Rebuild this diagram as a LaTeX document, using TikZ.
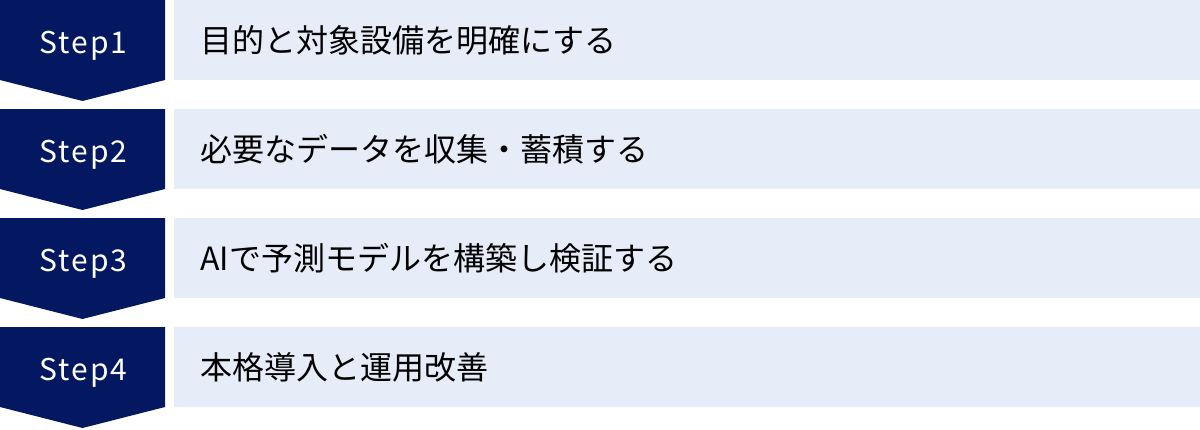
\documentclass[tikz,border=0pt]{standalone}
\usepackage{fontspec}
\setmainfont{Noto Sans CJK JP}
\newfontfamily\stepfont[LetterSpace=7]{Noto Sans CJK JP}
\usepackage{tikz}
\definecolor{stepnavy}{HTML}{041862}
\definecolor{taskblue}{HTML}{E6ECF8}

\begin{document}
\begin{tikzpicture}[x=0.5pt, y=-0.5pt,
    stepbox/.style={fill=stepnavy, draw=none},
    steplabel/.style={text=white, font=\stepfont\fontsize{15}{18}\selectfont, anchor=base, inner sep=0pt},
    taskbox/.style={fill=taskblue, minimum width=513pt, minimum height=40pt, anchor=north west, inner sep=0pt},
    tasklabel/.style={font=\fontsize{16}{19}\selectfont, anchor=west, inner sep=0pt}
  ]
  \useasboundingbox (0,0) rectangle (1200,429);
  % one row per step
  \foreach \i/\task [count=\n from 0] in {1/目的と対象設備を明確にする, 2/必要なデータを収集・蓄積する, 3/AIで予測モデルを構築し検証する, 4/本格導入と運用改善} {
    \fill[stepbox] (0,\n*109) -- (165,\n*109) -- (165,\n*109+80) -- (82.5,\n*109+101) -- (0,\n*109+80) -- cycle;
    \node[steplabel] (step\i) at (83.5,\n*109+53) {Step\i};
    \node[taskbox] (task\i) at (174,\n*109) {};
    \node[tasklabel] (text\i) at (200,\n*109+40) {\task};
  }
\end{tikzpicture}
\end{document}
